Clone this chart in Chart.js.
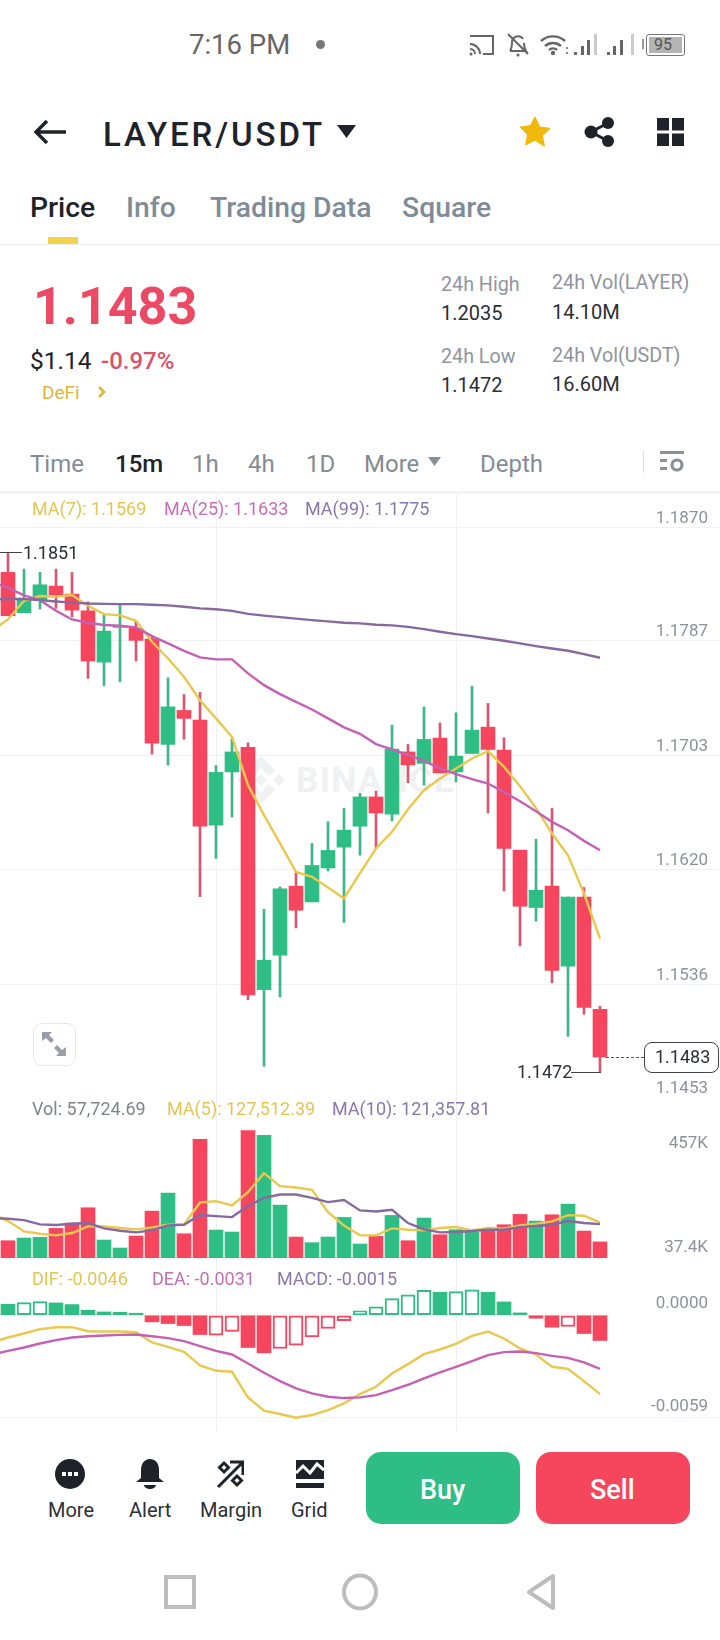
<!DOCTYPE html>
<html>
<head>
<meta charset="utf-8">
<title>LAYER/USDT</title>
<script src="https://cdn.jsdelivr.net/npm/chart.js@4/dist/chart.umd.min.js"></script>
<style>
  html, body { margin: 0; padding: 0; background: #fff; }
  body { position: relative; width: 720px; height: 1640px; overflow: hidden; font-family: Roboto, sans-serif; }
  canvas { position: absolute; left: -16px; }
  svg { position: absolute; }
  .t { position: absolute; white-space: nowrap; transform: translateY(-50%); line-height: 1; }
  .box { position: absolute; }
  .tab { font-size: 28.300px; color: #808b98; font-weight: 500; }
  .sm { font-size: 19.700px; color: #8f959e; }
  .val { font-size: 20px; color: #2b2f36; }
  .time { font-size: 24px; color: #848b95; }
  .leg { font-size: 18px; }
  .tool { font-size: 20px; color: #2b2f36; }
</style>
</head>
<body>
<!-- status bar -->
<div class="t" style="left:189px;top:45px;font-size:27.500px;color:#666">7:16 PM</div>
<div class="box" style="left:316px;top:40px;width:9px;height:9px;border-radius:50%;background:#777"></div>
<svg style="left:469px;top:34px" width="26" height="22" viewBox="0 0 26 22" fill="none" stroke="#666" stroke-width="2"><path d="M2 3V2h22v18H14"/><path d="M1 10a10 10 0 0 1 10 10M1 15a5 5 0 0 1 5 5"/><circle cx="2" cy="20" r="1.5" fill="#666" stroke="none"/></svg>
<svg style="left:505px;top:32px" width="26" height="25" viewBox="0 0 26 25" fill="none" stroke="#666" stroke-width="2"><path d="M5 19c2-3 2-6 2-9a6 6 0 0 1 11-3M19 11c0 3 0 5 2 8H5"/><path d="M3 2l20 20"/><circle cx="13" cy="23" r="1.5" fill="#666" stroke="none"/></svg>
<svg style="left:539px;top:32px" width="96" height="25" viewBox="0 0 96 25" fill="none"><g stroke="#666" stroke-width="2.4"><path d="M2 9a18 18 0 0 1 24 0M6 14a12 12 0 0 1 16 0M10 18a6 6 0 0 1 8 0"/></g><circle cx="14" cy="21" r="2.2" fill="#666"/><circle cx="28" cy="16" r="1" fill="#666"/><circle cx="28" cy="21" r="1" fill="#666"/><g fill="#666"><rect x="35" y="20" width="3" height="3"/><rect x="42" y="14" width="3" height="9"/><rect x="48" y="8" width="3" height="15"/><rect x="68" y="20" width="3" height="3"/><rect x="74" y="14" width="3" height="9"/><rect x="81" y="8" width="3" height="15"/></g><g fill="#ccc"><rect x="55" y="2" width="3" height="21"/><rect x="92" y="2" width="3" height="21"/></g></svg>
<div class="box" style="left:646px;top:34px;width:37px;height:20px;border:1.5px solid #777;border-radius:3px"></div>
<div class="box" style="left:649px;top:37px;width:33px;height:16px;background:#b4b4b4"></div>
<div class="box" style="left:642px;top:39px;width:2px;height:10px;background:#999"></div>
<div class="t" style="left:654px;top:45px;font-size:16px;color:#555">95</div>

<!-- header -->
<svg style="left:33px;top:119px" width="34" height="26" viewBox="0 0 34 26" fill="none" stroke="#1e2329" stroke-width="3.4"><path d="M33 13H3M14 2L3 13l11 11"/></svg>
<div class="t" style="left:103px;top:134px;font-size:33px;font-weight:500;color:#1e2329;letter-spacing:2.900px">LAYER/USDT</div>
<svg style="left:337px;top:125px" width="19" height="13" viewBox="0 0 19 13"><path d="M0 0h19L9.500 13z" fill="#1e2329"/></svg>
<svg style="left:519px;top:116px" width="32" height="32" viewBox="0 0 24 24"><path d="M12 1l3.400 7.300 7.600 1-5.500 5.400 1.400 7.800L12 18l-6.900 3.500 1.400-7.800L1 8.300l7.600-1z" fill="#f0b90b" stroke="#f0b90b" stroke-linejoin="round"/></svg>
<svg style="left:584px;top:117px" width="31" height="30" viewBox="0 0 31 30" fill="#1e2329"><circle cx="24" cy="6" r="6"/><circle cx="7" cy="15" r="6.500"/><circle cx="24" cy="24" r="6"/><path d="M24 6L7 15l17 9" fill="none" stroke="#1e2329" stroke-width="3"/></svg>
<svg style="left:657px;top:118px" width="27" height="28" viewBox="0 0 27 28" fill="#1e2329"><rect width="12" height="12.500"/><rect x="15" width="12" height="12.500"/><rect y="15.500" width="12" height="12.500"/><rect x="15" y="15.500" width="12" height="12.500"/></svg>

<!-- tabs -->
<div class="t tab" style="left:30px;top:208px;color:#1e2329">Price</div>
<div class="t tab" style="left:126px;top:208px">Info</div>
<div class="t tab" style="left:210px;top:208px">Trading Data</div>
<div class="t tab" style="left:402px;top:208px">Square</div>
<div class="box" style="left:48px;top:237px;width:30px;height:7px;background:#f3d24d"></div>
<div class="box" style="left:0;top:244px;width:720px;height:1px;background:#eceef0"></div>

<!-- price block -->
<div class="t" style="left:33px;top:307px;font-size:52px;font-weight:700;color:#ec4a64">1.1483</div>
<div class="t" style="left:30px;top:361px;font-size:24.500px;color:#1e2329">$1.14</div>
<div class="t" style="left:101px;top:361px;font-size:24px;font-weight:500;color:#d9536a">-0.97%</div>
<div class="t" style="left:42px;top:392px;font-size:19px;color:#d9b73c">DeFi</div>
<svg style="left:97px;top:385px" width="10" height="14" viewBox="0 0 10 14" fill="none" stroke="#d9b73c" stroke-width="2.600"><path d="M2 2l5 5-5 5"/></svg>
<div class="t sm" style="left:441px;top:285px">24h High</div>
<div class="t val" style="left:441px;top:313px">1.2035</div>
<div class="t sm" style="left:441px;top:357px">24h Low</div>
<div class="t val" style="left:441px;top:385px">1.1472</div>
<div class="t sm" style="left:552px;top:283px">24h Vol(LAYER)</div>
<div class="t val" style="left:552px;top:312px">14.10M</div>
<div class="t sm" style="left:552px;top:356px">24h Vol(USDT)</div>
<div class="t val" style="left:552px;top:384px">16.60M</div>

<!-- interval row -->
<div class="t time" style="left:30px;top:464px">Time</div>
<div class="t time" style="left:115px;top:464px;color:#1e2329;font-weight:500">15m</div>
<div class="t time" style="left:192px;top:464px">1h</div>
<div class="t time" style="left:248px;top:464px">4h</div>
<div class="t time" style="left:306px;top:464px">1D</div>
<div class="t time" style="left:364px;top:464px">More</div>
<svg style="left:428px;top:457px" width="13" height="9" viewBox="0 0 13 9"><path d="M0 0h13L6.500 9z" fill="#8a909a"/></svg>
<div class="t time" style="left:480px;top:464px">Depth</div>
<div class="box" style="left:643px;top:450px;width:1px;height:23px;background:#dfe1e4"></div>
<svg style="left:660px;top:451px" width="25" height="23" viewBox="0 0 25 23" fill="#8a909a"><rect width="24" height="3"/><rect y="8" width="7" height="3"/><rect y="16" width="7" height="3"/><circle cx="17" cy="14" r="5" fill="none" stroke="#8a909a" stroke-width="3.200"/></svg>
<div class="box" style="left:0;top:491px;width:720px;height:3px;background:#f3f4f5"></div>

<!-- watermark, sits behind the charts -->
<svg style="left:237px;top:756px" width="48" height="48" viewBox="0 0 48 48" fill="#f0f1f3"><path d="M24 0l14 14-6 6-8-8-8 8-6-6zM24 48L10 34l6-6 8 8 8-8 6 6zM0 24l6-6 6 6-6 6zM36 24l6-6 6 6-6 6zM24 18l6 6-6 6-6-6z"/></svg>
<div class="t" style="left:296px;top:780px;font-size:35px;font-weight:700;color:#f0f1f3;letter-spacing:1.500px">BINANCE</div>

<canvas id="priceChart" width="736" height="605" style="top:493px"></canvas>
<canvas id="volChart" width="736" height="160" style="top:1098px"></canvas>
<canvas id="macdChart" width="736" height="174" style="top:1258px"></canvas>

<!-- pane legends -->
<div class="t leg" style="left:32px;top:509px;color:#e3c552">MA(7): 1.1569</div>
<div class="t leg" style="left:164px;top:509px;color:#c56fb5">MA(25): 1.1633</div>
<div class="t leg" style="left:305px;top:509px;color:#8a78ab">MA(99): 1.1775</div>
<div class="t leg" style="left:32px;top:1109px;color:#7e848d">Vol: 57,724.69</div>
<div class="t leg" style="left:167px;top:1109px;color:#e3c552">MA(5): 127,512.39</div>
<div class="t leg" style="left:332px;top:1109px;color:#8a78ab">MA(10): 121,357.81</div>
<div class="t leg" style="left:32px;top:1279px;color:#e3c552">DIF: -0.0046</div>
<div class="t leg" style="left:152px;top:1279px;color:#c56fb5">DEA: -0.0031</div>
<div class="t leg" style="left:277px;top:1279px;color:#8a78ab">MACD: -0.0015</div>

<!-- high / low / last price markers -->
<div class="box" style="left:0;top:552px;width:22px;height:1px;background:#444"></div>
<div class="t leg" style="left:23px;top:553px;color:#2b2f36">1.1851</div>
<div class="t leg" style="left:517px;top:1072px;color:#2b2f36">1.1472</div>
<div class="box" style="left:571px;top:1072px;width:30px;height:1px;background:#444"></div>
<div class="box" style="left:606px;top:1057px;width:38px;border-top:1px dashed #555"></div>
<div class="box" style="left:644px;top:1042px;width:73px;height:29px;border:1.500px solid #444;border-radius:8px;background:#fff"></div>
<div class="t leg" style="left:655px;top:1057px;color:#2b2f36">1.1483</div>

<!-- expand button -->
<div class="box" style="left:33px;top:1023px;width:41px;height:41px;border:1px solid #e5e7ea;border-radius:9px;background:#fff"></div>
<svg style="left:42px;top:1032px" width="24" height="24" viewBox="0 0 24 24" fill="#9a9ea8"><path d="M0 0h10L7 3l5 5-3 3-5-5-4 3zM24 24H14l3-3-5-5 3-3 5 5 4-3z"/></svg>

<!-- toolbar -->
<svg style="left:55px;top:1459px" width="30" height="30" viewBox="0 0 30 30"><circle cx="15" cy="15" r="15" fill="#1e2329"/><g fill="#fff"><rect x="7" y="13" width="4" height="4"/><rect x="13" y="13" width="4" height="4"/><rect x="19" y="13" width="4" height="4"/></g></svg>
<svg style="left:136px;top:1459px" width="28" height="30" viewBox="0 0 28 30" fill="#1e2329"><path d="M14 0c6 0 9 5 9 11v8l5 4H0l5-4v-8C5 5 8 0 14 0z"/><path d="M8 26h12a6 4 0 0 1-12 0z"/></svg>
<svg style="left:217px;top:1460px" width="27" height="28" viewBox="0 0 27 28" fill="none" stroke="#1e2329" stroke-width="3"><path d="M1 27L25 3M13 2h13v13"/><path d="M7 3l4.500 4.500L7 12 2.500 7.500zM20 16l4.500 4.500L20 25l-4.500-4.500z"/></svg>
<svg style="left:296px;top:1460px" width="28" height="28" viewBox="0 0 28 28" fill="#1e2329"><path d="M0 0h28v19H0zM0 23h28v5H0z"/><path d="M0 13l7-7 7 7 7-9 7 6" fill="none" stroke="#fff" stroke-width="3"/></svg>
<div class="t tool" style="left:48px;top:1510px">More</div>
<div class="t tool" style="left:129px;top:1510px">Alert</div>
<div class="t tool" style="left:200px;top:1510px">Margin</div>
<div class="t tool" style="left:291px;top:1510px">Grid</div>
<div class="box" style="left:366px;top:1452px;width:154px;height:72px;border-radius:15px;background:#2ebd85"></div>
<div class="box" style="left:536px;top:1452px;width:154px;height:72px;border-radius:15px;background:#f6465d"></div>
<div class="t" style="left:420px;top:1490px;font-size:27px;font-weight:500;color:#fff">Buy</div>
<div class="t" style="left:590px;top:1490px;font-size:27px;font-weight:500;color:#fff">Sell</div>

<!-- nav bar -->
<svg style="left:160px;top:1570px" width="400" height="44" viewBox="0 0 400 44" fill="none" stroke="#bdbdbd" stroke-width="4"><rect x="6" y="7" width="28" height="30"/><ellipse cx="200" cy="22" rx="16" ry="16.500"/><path d="M393 6v32L369 22z" stroke-linejoin="round"/></svg>

<script>
// candle slots. slot 0 is off-screen, only the moving averages reach into it
const categories = ['-1', '0', '1', '2', '3', '4', '5', '6', '7', '8', '9', '10', '11', '12', '13', '14', '15', '16', '17', '18', '19', '20', '21', '22', '23', '24', '25', '26', '27', '28', '29', '30', '31', '32', '33', '34', '35', '36', '37', '38', '39', '40', '41', '42', '43', '44'];
const gridSlots = [14, 29];

const candleOpen = [null, 1.18371, 1.18076, 1.18168, 1.18271, 1.18212, 1.18090, 1.17715, 1.17969, 1.17962, 1.17883, 1.17114, 1.17362, 1.17291, 1.16524, 1.16913, 1.17092, 1.15322, 1.15573, 1.16078, 1.15963, 1.16211, 1.16363, 1.16516, 1.16730, 1.16604, 1.17059, 1.16975, 1.17160, 1.16913, 1.17048, 1.17240, 1.17072, 1.16341, 1.15922, 1.16078, 1.15493, 1.15999, 1.15178];
const candleClose = [null, 1.18054, 1.18168, 1.18280, 1.18205, 1.18095, 1.17723, 1.17942, 1.17978, 1.17874, 1.17123, 1.17388, 1.17304, 1.16516, 1.16909, 1.17059, 1.15283, 1.15537, 1.16058, 1.15902, 1.16229, 1.16339, 1.16487, 1.16730, 1.16613, 1.17079, 1.16964, 1.17150, 1.16906, 1.17028, 1.17218, 1.17077, 1.16353, 1.15931, 1.16048, 1.15463, 1.15999, 1.15191, 1.14830];
const candleHigh = [null, 1.18510, 1.18395, 1.18371, 1.18395, 1.18371, 1.18156, 1.18059, 1.18137, 1.18017, 1.17905, 1.17600, 1.17479, 1.17494, 1.16960, 1.17157, 1.17125, 1.15909, 1.16072, 1.16182, 1.16390, 1.16548, 1.16646, 1.16757, 1.16772, 1.17255, 1.17114, 1.17388, 1.17271, 1.17345, 1.17540, 1.17413, 1.17162, 1.16341, 1.16421, 1.16646, 1.15999, 1.16068, 1.15200];
const candleLow = [null, 1.18054, 1.18076, 1.18103, 1.18108, 1.18046, 1.17596, 1.17542, 1.17571, 1.17723, 1.17043, 1.16962, 1.17152, 1.16002, 1.16280, 1.16584, 1.15249, 1.14762, 1.15268, 1.15773, 1.15963, 1.16189, 1.15812, 1.16304, 1.16353, 1.16555, 1.16833, 1.16816, 1.16906, 1.16840, 1.17048, 1.16613, 1.16043, 1.15641, 1.15822, 1.15371, 1.14981, 1.15142, 1.14720];
const ma7 = [1.17944, 1.18027, 1.18163, 1.18198, 1.18193, 1.18205, 1.18127, 1.18066, 1.18057, 1.18017, 1.17864, 1.17742, 1.17608, 1.17437, 1.17304, 1.17169, 1.16816, 1.16597, 1.16390, 1.16182, 1.16146, 1.16068, 1.15988, 1.16173, 1.16353, 1.16475, 1.16640, 1.16779, 1.16865, 1.16938, 1.17011, 1.17065, 1.16950, 1.16809, 1.16648, 1.16463, 1.16304, 1.16024, 1.15695];
const ma25 = [1.18302, 1.18258, 1.18203, 1.18168, 1.18090, 1.18027, 1.18003, 1.17986, 1.17981, 1.17969, 1.17905, 1.17852, 1.17798, 1.17750, 1.17735, 1.17735, 1.17633, 1.17547, 1.17481, 1.17425, 1.17369, 1.17304, 1.17238, 1.17191, 1.17116, 1.17077, 1.17035, 1.16994, 1.16938, 1.16896, 1.16860, 1.16828, 1.16765, 1.16699, 1.16626, 1.16548, 1.16487, 1.16409, 1.16341];
const ma99 = [1.18174, 1.18176, 1.18176, 1.18168, 1.18158, 1.18150, 1.18144, 1.18141, 1.18139, 1.18139, 1.18134, 1.18130, 1.18120, 1.18108, 1.18101, 1.18090, 1.18068, 1.18055, 1.18044, 1.18033, 1.18022, 1.18013, 1.18003, 1.17998, 1.17988, 1.17984, 1.17973, 1.17956, 1.17937, 1.17920, 1.17905, 1.17888, 1.17871, 1.17852, 1.17832, 1.17815, 1.17798, 1.17774, 1.17747];
const priceTicks = [1.1453, 1.1536, 1.1620, 1.1703, 1.1787, 1.1870];

const volume = [null, 62000, 71600, 74000, 106200, 125300, 180100, 64400, 35800, 78700, 168200, 232600, 87100, 425900, 100200, 93100, 457000, 440200, 189700, 75200, 54900, 75200, 145500, 50100, 77500, 152700, 62000, 143200, 83500, 101400, 91900, 102600, 119300, 156300, 132400, 155100, 193300, 96600, 57725];
const volMa5 = [158700, 132400, 95400, 87100, 81100, 89500, 113300, 113300, 107400, 102600, 109800, 119300, 120500, 199200, 204000, 188500, 236200, 304200, 257700, 252900, 244600, 164600, 116900, 81100, 81100, 106200, 101400, 99000, 107400, 110900, 99000, 107400, 105000, 116900, 122900, 131200, 153900, 151500, 127512];
const volMa10 = [143200, 140800, 136000, 120500, 118100, 122900, 125300, 106200, 97800, 91900, 99000, 116900, 119300, 153900, 150300, 146700, 186100, 215900, 227900, 227900, 215900, 200400, 207600, 170600, 167000, 173000, 125300, 102600, 91900, 93100, 96600, 101400, 101400, 110900, 114500, 119300, 132400, 125300, 121358];
const volLowTick = [37400];
const volHighTick = [457000];

const macdHist = [null, 0.000634, 0.000730, 0.000788, 0.000711, 0.000615, 0.000288, 0.000192, 0.000173, 0.000115, -0.000384, -0.000481, -0.000596, -0.001115, -0.001153, -0.000942, -0.001864, -0.002172, -0.001922, -0.001730, -0.001249, -0.000769, -0.000308, 0.000250, 0.000481, 0.000961, 0.001172, 0.001442, 0.001326, 0.001365, 0.001461, 0.001326, 0.000769, 0.000135, -0.000173, -0.000692, -0.000653, -0.001057, -0.001460];
const macdHollow = [false, false, true, true, false, false, false, false, false, false, false, false, false, false, true, true, false, false, true, true, true, true, true, true, true, true, true, true, false, true, true, false, false, false, false, false, true, false, false];
const dif = [-0.001576, -0.001288, -0.001057, -0.000807, -0.000692, -0.000692, -0.000923, -0.000942, -0.000942, -0.000980, -0.001576, -0.001826, -0.002114, -0.002902, -0.003210, -0.003267, -0.004747, -0.005516, -0.005708, -0.005920, -0.005766, -0.005478, -0.005093, -0.004555, -0.004132, -0.003364, -0.002825, -0.002249, -0.001980, -0.001653, -0.001192, -0.000942, -0.001345, -0.001922, -0.002268, -0.002979, -0.003094, -0.003806, -0.004555];
const dea = [-0.002268, -0.002057, -0.001864, -0.001634, -0.001442, -0.001288, -0.001211, -0.001172, -0.001134, -0.001115, -0.001211, -0.001326, -0.001499, -0.001787, -0.002057, -0.002268, -0.002787, -0.003325, -0.003806, -0.004228, -0.004517, -0.004709, -0.004786, -0.004747, -0.004613, -0.004325, -0.004017, -0.003652, -0.003306, -0.002979, -0.002652, -0.002306, -0.002133, -0.002095, -0.002191, -0.002345, -0.002460, -0.002729, -0.003094];
const macdTicks = [-0.0059, 0];

const GREEN = '#2ebd85', RED = '#f6465d';
const YELLOW = '#e8c84f', PINK = '#c561b4', PURPLE = '#85699f';
const GRID = '#f0f1f3', LABEL = '#8d929a';

const isUp = i => candleClose[i] >= candleOpen[i];

function lineSet(data, color) {
  return { type: 'line', data: data, borderColor: color, borderWidth: 2.4, pointRadius: 0, tension: 0, order: 0 };
}

function xAxis(showBase) {
  return {
    type: 'category',
    offset: true,
    ticks: { display: false, autoSkip: false },
    grid: { offset: false, color: GRID, drawTicks: false },
    border: { display: showBase, color: GRID },
    afterBuildTicks: axis => { axis.ticks = gridSlots.map(v => ({ value: v })); }
  };
}

function yAxis(min, max, ticks, labelOffset, format, gridColor) {
  return {
    type: 'linear',
    position: 'right',
    min: min,
    max: max,
    border: { display: false },
    grid: { color: gridColor, drawTicks: false },
    afterBuildTicks: axis => { axis.ticks = ticks.map(v => ({ value: v })); },
    // labels float inside the plot, so the axis must take no room
    afterFit: axis => { axis.width = 0; axis.paddingTop = 0; axis.paddingBottom = 0; },
    ticks: {
      mirror: true,
      padding: -12,
      labelOffset: labelOffset,
      color: LABEL,
      font: { family: 'Roboto', size: 17 },
      callback: format
    }
  };
}

const base = {
  responsive: false,
  animation: false,
  events: [],
  layout: { padding: 0 },
  plugins: { legend: { display: false }, tooltip: { enabled: false } }
};

// Price pane: candles are floating bars, a thin one for the wick under a wide one for the body
new Chart(document.getElementById('priceChart'), {
  type: 'bar',
  data: {
    labels: categories,
    datasets: [
      lineSet(ma99, PURPLE),
      lineSet(ma25, PINK),
      lineSet(ma7, YELLOW),
      {
        data: candleOpen.map((o, i) => o === null ? null : [o, candleClose[i]]),
        backgroundColor: candleOpen.map((o, i) => isUp(i) ? GREEN : RED),
        barThickness: 14, grouped: false, order: 1
      },
      {
        data: candleHigh.map((h, i) => h === null ? null : [candleLow[i], h]),
        backgroundColor: candleOpen.map((o, i) => isUp(i) ? '#3fb58a' : '#d9566e'),
        barThickness: 2, grouped: false, order: 2
      }
    ]
  },
  options: Object.assign({}, base, {
    scales: {
      x: xAxis(true),
      y: yAxis(1.1453, 1.18951, priceTicks, -9, v => v.toFixed(4), GRID)
    }
  })
});

// Volume pane
const volFormat = v => v >= 100000 ? Math.round(v / 1000) + 'K' : (v / 1000).toFixed(1) + 'K';
new Chart(document.getElementById('volChart'), {
  type: 'bar',
  data: {
    labels: categories,
    datasets: [
      lineSet(volMa10, PURPLE),
      lineSet(volMa5, YELLOW),
      {
        data: volume,
        backgroundColor: candleOpen.map((o, i) => isUp(i) ? GREEN : RED),
        barThickness: 14, order: 1
      }
    ]
  },
  options: Object.assign({}, base, {
    scales: {
      x: xAxis(true),
      y: yAxis(0, 573800, volLowTick, 0, volFormat, 'transparent'),
      // second axis only so the top label can sit under its value
      yHigh: yAxis(0, 573800, volHighTick, 13, volFormat, 'transparent')
    }
  })
});

// MACD pane
const macdColor = i => macdHist[i] >= 0 ? GREEN : RED;
new Chart(document.getElementById('macdChart'), {
  type: 'bar',
  data: {
    labels: categories,
    datasets: [
      lineSet(dea, PINK),
      lineSet(dif, YELLOW),
      {
        data: macdHist,
        backgroundColor: macdHist.map((v, i) => macdHollow[i] ? '#fff' : macdColor(i)),
        borderColor: macdHist.map((v, i) => macdColor(i)),
        borderWidth: macdHist.map((v, i) => macdHollow[i] ? 2 : 0),
        borderSkipped: false,
        barThickness: 14, order: 1
      }
    ]
  },
  options: Object.assign({}, base, {
    scales: {
      x: xAxis(false),
      y: yAxis(-0.006746, 0.003306, macdTicks, -11, v => v.toFixed(4), c => c.tick.value === 0 ? 'transparent' : GRID)
    }
  })
});
</script>
</body>
</html>
